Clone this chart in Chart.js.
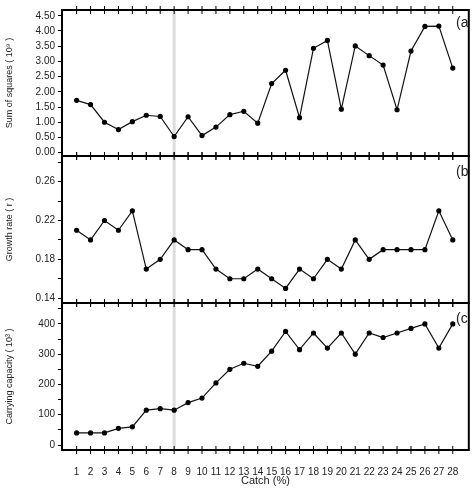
<!DOCTYPE html><html><head><meta charset="utf-8">
<script src="https://cdn.jsdelivr.net/npm/chart.js@4"></script>
<style>body{margin:0;background:#fff;width:474px;height:492px;position:relative;overflow:hidden;font-family:"Liberation Sans",Arial,sans-serif}
canvas{position:absolute;left:0;top:0;width:474px;height:492px}
.lab{position:absolute;left:456px;font-size:14px;color:#222}</style></head><body>
<canvas id="ca" width="474" height="492"></canvas>
<canvas id="cb" width="474" height="492"></canvas>
<canvas id="cc" width="474" height="492"></canvas>
<div class="lab" style="top:14px">(a</div>
<div class="lab" style="top:163px">(b</div>
<div class="lab" style="top:310px">(c</div>
<script>
const catches=[1,2,3,4,5,6,7,8,9,10,11,12,13,14,15,16,17,18,19,20,21,22,23,24,25,26,27,28];
const sumSquares=[1.72,1.58,1.0,0.76,1.02,1.23,1.19,0.53,1.18,0.56,0.84,1.25,1.36,0.97,2.27,2.71,1.15,3.43,3.69,1.43,3.51,3.19,2.88,1.41,3.34,4.15,4.16,2.78];
const growthRate=[.21,.20,.22,.21,.23,.17,.18,.20,.19,.19,.17,.16,.16,.17,.16,.15,.17,.16,.18,.17,.20,.18,.19,.19,.19,.19,.23,.20];
const capacity=[40,40,40,55,60,115,120,115,140,155,205,250,270,260,310,375,315,370,320,370,300,370,355,370,385,400,320,400];
const highlight=8;
const F='"Liberation Sans", Arial, sans-serif';
const deco={id:'deco',beforeDatasetsDraw(c){const a=c.chartArea,x=c.scales.x.getPixelForValue(highlight),g=c.ctx;g.save();g.fillStyle='#dcdcdc';g.fillRect(x-1.5,a.top,3,a.bottom-a.top);g.restore();},
 afterDraw(c){const a=c.chartArea,g=c.ctx;g.save();g.strokeStyle='#000';g.lineWidth=2;g.strokeRect(a.left,a.top,a.right-a.left,a.bottom-a.top);
 g.lineWidth=1;catches.forEach(v=>{const x=c.scales.x.getPixelForValue(v);g.beginPath();g.moveTo(x,a.bottom-4);g.lineTo(x,a.bottom+4);g.moveTo(x,a.top-4);g.lineTo(x,a.top+4);g.stroke();});g.restore();}};
function mk(id,data,top,bottom,ymin,ymax,step,show,fmt,title,showX){
 new Chart(document.getElementById(id),{type:'line',data:{labels:catches,datasets:[{data:data.map((v,i)=>({x:catches[i],y:v})),borderColor:'#111',borderWidth:1.2,pointRadius:2,pointBackgroundColor:'#000',pointBorderColor:'#000',tension:0}]},
 options:{animation:false,responsive:false,devicePixelRatio:1,layout:{padding:{top:top,left:0,right:0,bottom:0}},plugins:{legend:{display:false},tooltip:{enabled:false}},
 scales:{x:{type:'linear',min:-0.05,max:29.15,afterBuildTicks(s){s.ticks=catches.map(v=>({value:v}));},afterFit(s){s.height=492-bottom;},
  grid:{display:false},border:{display:false},ticks:{display:showX,autoSkip:false,maxRotation:0,color:'#222',font:{family:F,size:10},padding:8},
  title:{display:showX,text:'Catch (%)',color:'#222',font:{family:F,size:11},padding:{top:6}}},
 y:{min:ymin,max:ymax,afterFit(s){s.width=62;},afterBuildTicks(s){const t=[];for(let v=Math.ceil(ymin/step-1e-9)*step;v<=ymax+1e-9;v+=step)t.push({value:+v.toFixed(4)});s.ticks=t;},
  grid:{display:true,drawOnChartArea:false,tickLength:4,color:'#000'},border:{display:false},
  ticks:{color:'#222',font:{family:F,size:10},padding:3,callback:v=>show(v)?fmt(v):''},
  title:{display:true,text:title,color:'#222',font:{family:F,size:9},padding:{bottom:2}}}}},plugins:[deco]});
}
const near=(v,m)=>Math.abs(v/m-Math.round(v/m))<1e-6;
mk('ca',sumSquares,10,156,-0.11,4.69,0.5,v=>v>=0&&near(v,0.5),v=>v.toFixed(2),'Sum of squares ( 10⁹ )',false);
mk('cb',growthRate,156,303,0.135,0.2865,0.02,v=>near(v-0.14,0.04),v=>v.toFixed(2),'Growth rate ( r )',false);
mk('cc',capacity,303,450,-16.5,469,50,v=>v>=0&&near(v,100),v=>String(v),'Carrying capacity ( 10³ )',true);
</script></body></html>
